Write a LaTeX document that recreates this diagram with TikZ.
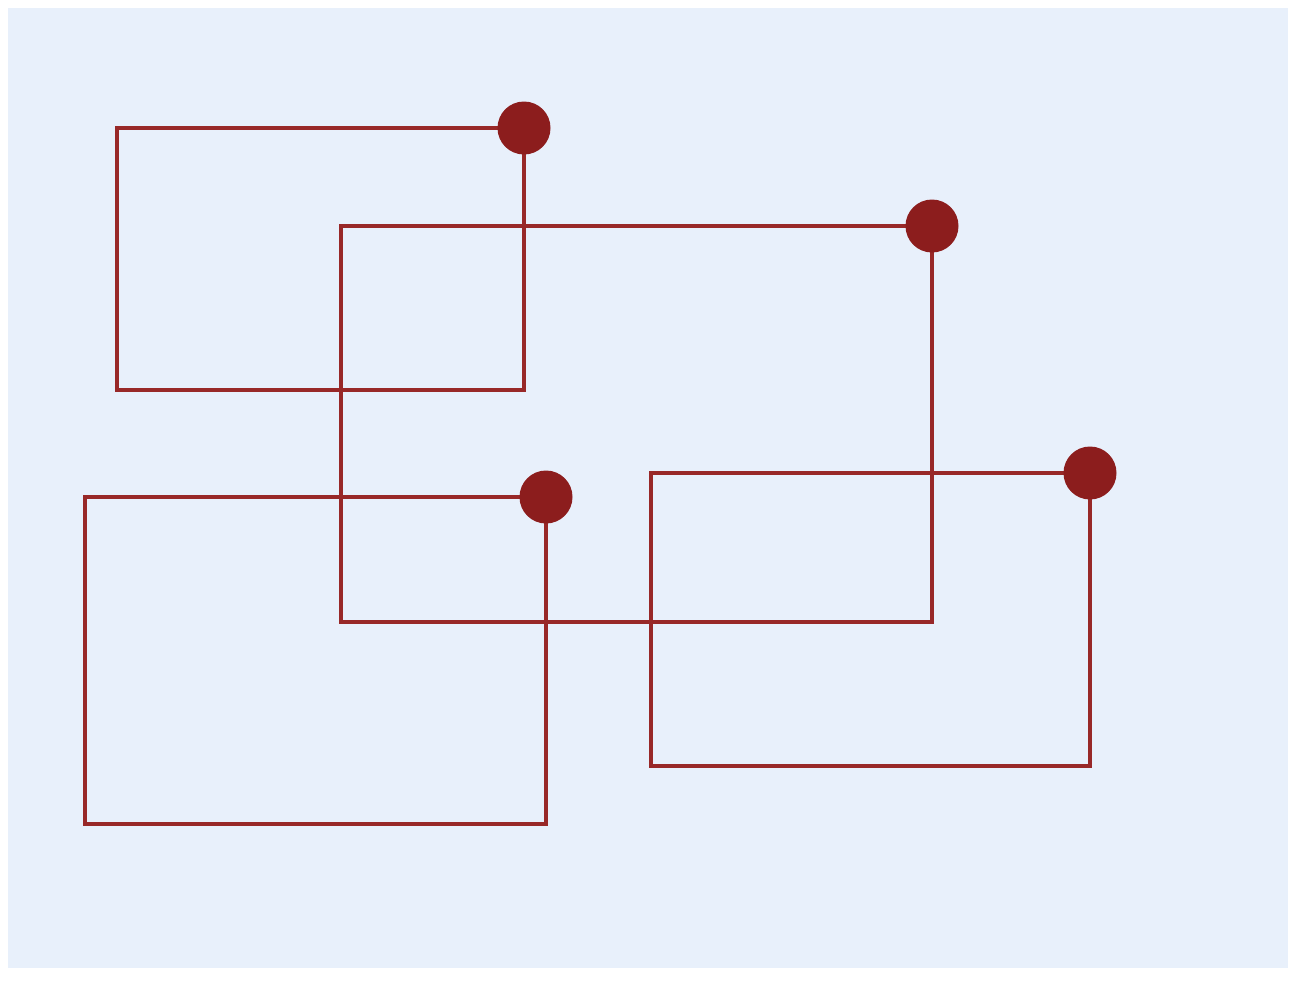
\documentclass[tikz,border=0pt]{standalone}
\definecolor{bgblue}{HTML}{E8F0FB}
\definecolor{wire}{HTML}{982828}
\definecolor{dotred}{HTML}{8C1D1D}
\begin{document}
\begin{tikzpicture}[x=1pt,y=-1pt,
  wirepath/.style={draw=wire,line width=4.2pt,line join=miter},
  dotnode/.style={circle,fill=dotred,inner sep=0pt,minimum size=53pt}]
\useasboundingbox (0,0) rectangle (1298,980);
\fill[white] (0,0) rectangle (1298,980);
\fill[bgblue] (8,8) rectangle (1288,968);
% anchor coordinates
\coordinate (p1) at (524,128);
\coordinate (p2) at (932,226);
\coordinate (p3) at (546,497);
\coordinate (p4) at (1090,473);
% wires
\draw[wirepath] (p1) -- (117,128) -- (117,390) -- (524,390) -- cycle;
\draw[wirepath] (p2) -- (341,226) -- (341,622) -- (932,622) -- cycle;
\draw[wirepath] (p3) -- (85,497) -- (85,824) -- (546,824) -- cycle;
\draw[wirepath] (p4) -- (651,473) -- (651,766) -- (1090,766) -- cycle;
% dots
\node[dotnode] (d1) at (p1) {};
\node[dotnode] (d2) at (p2) {};
\node[dotnode] (d3) at (p3) {};
\node[dotnode] (d4) at (p4) {};
\end{tikzpicture}
\end{document}
